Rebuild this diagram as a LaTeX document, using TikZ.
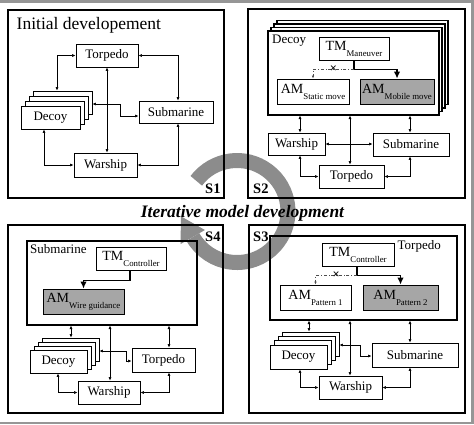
\documentclass[tikz,border=0pt]{standalone}
\usepackage{fontspec}
\setmainfont{Liberation Serif}
\usetikzlibrary{arrows.meta,shadows}
\definecolor{arcgray}{RGB}{140,140,140}
\definecolor{framegray}{RGB}{150,150,150}
\newcommand{\modlabel}[2]{#1\raisebox{-6pt}{\fontsize{8.8}{9}\selectfont #2}}
\begin{document}
\begin{tikzpicture}[x=1pt,y=-1pt,
    panel/.style={line width=1.4pt},
    box/.style={draw, fill=white, line width=0.8pt, inner sep=0pt,
      font=\fontsize{13}{14}\selectfont},
    modbox/.style={box, font=\fontsize{14}{15}\selectfont},
    holder/.style={draw, line width=1.1pt, inner sep=0pt},
    wh/.style 2 args={minimum width=#1pt, minimum height=#2pt},
    stack/.style 2 args={
      general shadow={shadow xshift=3*#1, shadow yshift=3*#2, fill=white, draw=black},
      general shadow={shadow xshift=2*#1, shadow yshift=2*#2, fill=white, draw=black},
      general shadow={shadow xshift=#1, shadow yshift=#2, fill=white, draw=black}},
    link/.style={line width=0.6pt, {Latex[length=3.5pt,width=3pt]}-{Latex[length=3.5pt,width=3pt]}},
    strong/.style={line width=1.6pt, -{Latex[length=7pt,width=6.5pt]}},
    weak/.style={line width=0.6pt, black!70, dash dot, -{Latex[length=3pt,width=2.5pt]}},
    cross/.style={font=\bfseries\fontsize{12.5}{12}\selectfont, inner sep=0pt, black},
    tag/.style={font=\bfseries\fontsize{14.5}{15}\selectfont, inner sep=0pt},
    caption/.style={inner sep=0pt, font=\fontsize{13}{14}\selectfont}]
  \useasboundingbox (0,0) rectangle (474,424);
  \fill[framegray] (0,0) rectangle (474,3);
  \fill[framegray] (471,0) rectangle (474,424);
  \fill[framegray] (0,421.5) rectangle (474,424);

  \draw[line width=15pt, arcgray] (237,211.5) ++(-143:51)
    arc[start angle=-143, end angle=150, radius=51];
  \fill[arcgray] (204.9,230) -- (180.8,216.2) -- (180.7,244) -- cycle;

  \draw[panel] (8,10) rectangle (224,198);
  \draw[panel] (248,9) rectangle (465,198);
  \draw[panel] (8,225) rectangle (223,413);
  \draw[panel] (249,225) rectangle (465,413);
  \node[tag, anchor=base west] (s1) at (205,193) {S1};
  \node[tag, anchor=base west] (s2) at (253,193) {S2};
  \node[tag, anchor=base west] (s4) at (205,241) {S4};
  \node[tag, anchor=base west] (s3) at (253,241) {S3};

  % S1
  \node[inner sep=0pt, anchor=base west, font=\fontsize{17.5}{18}\selectfont] (init) at (16.5,29.5) {Initial developement};
  \node[box, wh={62}{23}] (tor1) at (107,55.5) {Torpedo};
  \node[box, wh={59}{23}, stack={4pt}{5pt}] (dec1) at (50.5,117.5) {Decoy};
  \node[box, wh={74}{22}] (sub1) at (176,112) {Submarine};
  \node[box, wh={63}{24}] (war1) at (105.5,165) {Warship};
  \draw[link] (tor1.west) -| ([xshift=6.5pt,yshift=15pt]dec1.north);
  \draw[link] (tor1.east) -| ([xshift=2pt]sub1.north);
  \draw[link] (tor1.south) -- (tor1.south |- war1.north);
  \draw[link] ([xshift=12pt,yshift=13.5pt]dec1.east) -- ++(28,0) |- ([yshift=-4pt]sub1.west);
  \draw[link] ([xshift=-6.5pt]dec1.south) |- (war1.west);
  \draw[link] ([xshift=2pt]sub1.south) |- (war1.east);

  % S2
  \node[holder, fill=white, wh={171}{84}, stack={3pt}{3.5pt}] (dec2) at (353.5,73) {};
  \node[caption, anchor=north west] (dec2l) at (272,35) {Decoy};
  \node[modbox, wh={70}{23}] (tm2) at (354,48.5) {\modlabel{TM}{Maneuver}};
  \node[modbox, wh={72}{25}] (ams2) at (313,91.5) {\modlabel{AM}{Static move}};
  \node[modbox, wh={74}{25}, fill=black!35] (amm2) at (397,91.5) {\modlabel{AM}{Mobile move}};
  \draw[strong] (tm2.south) -- ++(0,9) -| (amm2.north);
  \draw[weak] ([yshift=-9pt]tm2.south) -| (ams2.north) node[cross, pos=0.25] {×};
  \node[box, wh={57}{22}] (war2) at (296.5,144) {Warship};
  \node[box, wh={76}{23}] (sub2) at (411,144.5) {Submarine};
  \node[box, wh={65}{23}] (tor2) at (351.5,176.5) {Torpedo};
  \draw[link] ([xshift=3.5pt]war2.north) -- ([xshift=3.5pt]war2.north |- dec2.south);
  \draw[link] ([xshift=-1pt]sub2.north) -- ([xshift=-1pt]sub2.north |- dec2.south);
  \draw[link] ([xshift=-1.5pt]tor2.north) -- ([xshift=-1.5pt]tor2.north |- dec2.south);
  \draw[link] (war2.east) -- (war2.east -| sub2.west);
  \draw[link] ([xshift=3.5pt]war2.south) |- (tor2.west);
  \draw[link] ([xshift=-1pt]sub2.south) |- (tor2.east);

  % S3
  \node[holder, wh={187}{84}] (tor3) at (363.5,278) {};
  \node[caption, anchor=north east] (tor3l) at (441,240) {Torpedo};
  \node[modbox, wh={72}{23}] (tm3) at (358,254.5) {\modlabel{TM}{Controller}};
  \node[modbox, wh={71}{25}] (amp1) at (315.5,297.5) {\modlabel{AM}{Pattern 1}};
  \node[modbox, wh={75}{25}, fill=black!35] (amp2) at (400.5,297.5) {\modlabel{AM}{Pattern 2}};
  \draw[strong] ([xshift=-1pt]tm3.south) -- ++(0,9) -| (amp2.north);
  \draw[weak] ([xshift=-1pt,yshift=-9pt]tm3.south) -| (amp1.north) node[cross, pos=0.25] {×};
  \node[box, wh={57}{24}, stack={4pt}{4.3pt}] (dec3) at (298.5,357) {Decoy};
  \node[box, wh={86}{24}] (sub3) at (415,355) {Submarine};
  \node[box, wh={63}{23}] (war3) at (350.5,387.5) {Warship};
  \draw[link] ([xshift=10.5pt,yshift=13pt]dec3.north) -- ([xshift=10.5pt]dec3.north |- tor3.south);
  \draw[link] ([xshift=-0.5pt]war3.north) -- ([xshift=-0.5pt]war3.north |- tor3.south);
  \draw[link] ([xshift=-5pt]sub3.north) -- ([xshift=-5pt]sub3.north |- tor3.south);
  \draw[link] ([xshift=12pt,yshift=12pt]dec3.east) -- ++(21,0) |- ([yshift=-1pt]sub3.west);
  \draw[link] ([xshift=1.5pt]dec3.south) |- (war3.west);
  \draw[link] ([xshift=-5pt]sub3.south) |- (war3.east);

  % S4
  \node[holder, wh={170}{84}] (sub4) at (112,283) {};
  \node[caption, anchor=north west] (sub4l) at (30,244) {Submarine};
  \node[modbox, wh={70}{23}] (tm4) at (131,258.5) {\modlabel{TM}{Controller}};
  \node[modbox, wh={81}{25}, fill=black!35] (amw4) at (83.5,301.5) {\modlabel{AM}{Wire guidance}};
  \draw[strong] ([xshift=-1pt]tm4.south) -- ++(0,10) -| (amw4.north);
  \node[box, wh={57}{23}, stack={4pt}{4pt}] (dec4) at (58.5,361.5) {Decoy};
  \node[box, wh={63}{24}] (tor4) at (163.5,360) {Torpedo};
  \node[box, wh={62}{23}] (war4) at (109,392.5) {Warship};
  \draw[link] ([xshift=12.5pt,yshift=12pt]dec4.north) -- ([xshift=12.5pt]dec4.north |- sub4.south);
  \draw[link] ([xshift=1pt]war4.north) -- ([xshift=1pt]war4.north |- sub4.south);
  \draw[link] ([xshift=5.5pt]tor4.north) -- ([xshift=5.5pt]tor4.north |- sub4.south);
  \draw[link] ([xshift=12pt,yshift=10.5pt]dec4.east) -- ++(27,0) |- ([yshift=-1pt]tor4.west);
  \draw[link] ([xshift=-0.5pt]dec4.south) |- (war4.west);
  \draw[link] ([xshift=5.5pt]tor4.south) |- (war4.east);

  \node[inner sep=0pt, anchor=base, font=\bfseries\itshape\fontsize{17.5}{18}\selectfont] (title) at (242.5,217) {Iterative model development};
\end{tikzpicture}
\end{document}
